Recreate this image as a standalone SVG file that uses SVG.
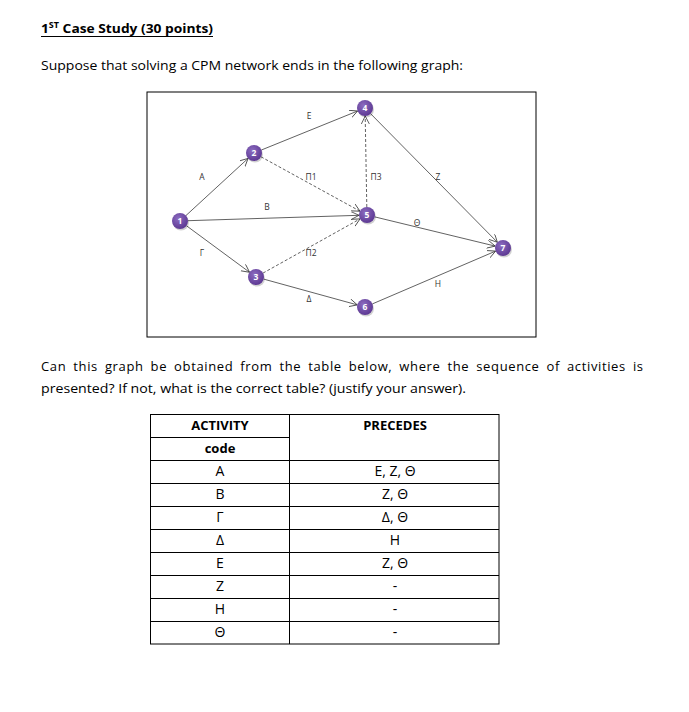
<svg xmlns="http://www.w3.org/2000/svg" width="689" height="712" viewBox="0 0 689 712">
<style>
  .t{font-family:"Open Sans","Liberation Sans",sans-serif;font-size:13px;fill:#000}
  .tb{font-size:14px}
  .b{font-weight:bold}
  .c{text-anchor:middle}
  .lbl{font-family:"Open Sans","Liberation Sans",sans-serif;font-size:8.5px;fill:#333;text-anchor:middle}
  .num{font-family:"Open Sans","Liberation Sans",sans-serif;font-size:8.5px;fill:#fff;text-anchor:middle;font-weight:bold}
  .e{stroke:#3a3a3a;stroke-width:0.8;fill:none;marker-end:url(#arr)}
  .d{stroke-dasharray:3,2}
  .nd{fill:url(#ng);stroke:none}
  .sh{fill:#000;opacity:0.18}
  .grid{stroke:#000;stroke-width:1;fill:none}
</style>
<defs>
  <marker id="arr" markerUnits="userSpaceOnUse" markerWidth="10" markerHeight="10" refX="8" refY="4" orient="auto">
    <path d="M0,0 L8,4 L0,8" fill="none" stroke="#3a3a3a" stroke-width="0.8"/>
  </marker>
  <radialGradient id="ng" cx="0.4" cy="0.35" r="0.7">
    <stop offset="0" stop-color="#8c6cc0"/>
    <stop offset="1" stop-color="#5a3590"/>
  </radialGradient>
</defs>

<!-- Title -->
<g id="title">
  <text class="t b" x="41" y="33" font-size="14" textLength="172" lengthAdjust="spacingAndGlyphs">1<tspan font-size="8.5" dy="-5">ST</tspan><tspan dy="5"> Case Study (30 points)</tspan></text>
  <line x1="41" y1="36.5" x2="213" y2="36.5" stroke="#000" stroke-width="1"/>
</g>
<text class="t" x="41" y="70" textLength="422" lengthAdjust="spacingAndGlyphs">Suppose that solving a CPM network ends in the following graph:</text>

<!-- Graph frame -->
<rect x="147" y="92" width="389" height="245" fill="#fff" stroke="#000" stroke-width="1"/>

<g id="connectors">
  <line class="e" x1="185.9" y1="215.6" x2="248.1" y2="158.4"/>
  <line class="e" x1="261.4" y1="150.0" x2="357.6" y2="111.0"/>
  <line class="e d" x1="261.0" y1="156.8" x2="360.0" y2="211.2"/>
  <line class="e" x1="188" y1="220.7" x2="359" y2="215.3"/>
  <line class="e" x1="186.4" y1="225.7" x2="249.6" y2="272.3"/>
  <line class="e d" x1="263" y1="273.1" x2="360" y2="218.9"/>
  <line class="e d" x1="366.8" y1="207" x2="365.2" y2="116"/>
  <line class="e" x1="370.6" y1="113.7" x2="497.4" y2="242.3"/>
  <line class="e" x1="374.8" y1="216.9" x2="495.2" y2="246.1"/>
  <line class="e" x1="263.7" y1="279.1" x2="357.3" y2="304.9"/>
  <line class="e" x1="372.4" y1="303.9" x2="495.6" y2="251.1"/>
  <text class="lbl" x="309" y="119">E</text>
  <text class="lbl" x="202" y="180">A</text>
  <text class="lbl" x="311" y="180">Π1</text>
  <text class="lbl" x="376" y="180">Π3</text>
  <text class="lbl" x="267" y="210">B</text>
  <text class="lbl" x="438" y="180">Z</text>
  <text class="lbl" x="417" y="226">Θ</text>
  <text class="lbl" x="438" y="287">H</text>
  <text class="lbl" x="202" y="256">Γ</text>
  <text class="lbl" x="311" y="256">Π2</text>
  <text class="lbl" x="309" y="302">Δ</text>
</g>

<g id="n1"><circle class="sh" cx="181" cy="222.5" r="8"/><circle class="nd" cx="180" cy="221" r="8"/><text class="num" x="180" y="224">1</text></g>
<g id="n2"><circle class="sh" cx="255" cy="154.5" r="8"/><circle class="nd" cx="254" cy="153" r="8"/><text class="num" x="254" y="156">2</text></g>
<g id="n3"><circle class="sh" cx="257" cy="278.5" r="8"/><circle class="nd" cx="256" cy="277" r="8"/><text class="num" x="256" y="280">3</text></g>
<g id="n4"><circle class="sh" cx="366" cy="109.5" r="8"/><circle class="nd" cx="365" cy="108" r="8"/><text class="num" x="365" y="111">4</text></g>
<g id="n5"><circle class="sh" cx="368" cy="216.5" r="8"/><circle class="nd" cx="367" cy="215" r="8"/><text class="num" x="367" y="218">5</text></g>
<g id="n6"><circle class="sh" cx="366" cy="308.5" r="8"/><circle class="nd" cx="365" cy="307" r="8"/><text class="num" x="365" y="310">6</text></g>
<g id="n7"><circle class="sh" cx="504" cy="249.5" r="8"/><circle class="nd" cx="503" cy="248" r="8"/><text class="num" x="503" y="251">7</text></g>

<!-- Question -->
<text class="t" x="41" y="371" word-spacing="3" textLength="602" lengthAdjust="spacing">Can this graph be obtained from the table below, where the sequence of activities is</text>
<text class="t" x="41" y="393" textLength="425" lengthAdjust="spacingAndGlyphs">presented? If not, what is the correct table? (justify your answer).</text>

<!-- Table -->
<g id="table">
  <rect class="grid" x="150.5" y="414.5" width="348.5" height="229.5"/>
  <line class="grid" x1="289.5" y1="414.5" x2="289.5" y2="644"/>
  <line class="grid" x1="150.5" y1="437.5" x2="289.5" y2="437.5"/>
  <line class="grid" x1="150.5" y1="460.5" x2="499" y2="460.5"/>
  <line class="grid" x1="150.5" y1="483.5" x2="499" y2="483.5"/>
  <line class="grid" x1="150.5" y1="506.5" x2="499" y2="506.5"/>
  <line class="grid" x1="150.5" y1="529.5" x2="499" y2="529.5"/>
  <line class="grid" x1="150.5" y1="552.5" x2="499" y2="552.5"/>
  <line class="grid" x1="150.5" y1="575.5" x2="499" y2="575.5"/>
  <line class="grid" x1="150.5" y1="598.5" x2="499" y2="598.5"/>
  <line class="grid" x1="150.5" y1="621.5" x2="499" y2="621.5"/>
  <text class="t b c" x="220" y="430">ACTIVITY</text>
  <text class="t b c" x="395" y="430">PRECEDES</text>
  <text class="t b c" x="220" y="453">code</text>
  <text class="t tb c" x="220" y="476">A</text><text class="t tb c" x="395" y="476">E, Z, Θ</text>
  <text class="t tb c" x="220" y="499">B</text><text class="t tb c" x="395" y="499">Z, Θ</text>
  <text class="t tb c" x="220" y="522">Γ</text><text class="t tb c" x="395" y="522">Δ, Θ</text>
  <text class="t tb c" x="220" y="545">Δ</text><text class="t tb c" x="395" y="545">H</text>
  <text class="t tb c" x="220" y="568">E</text><text class="t tb c" x="395" y="568">Z, Θ</text>
  <text class="t tb c" x="220" y="591">Z</text><text class="t tb c" x="395" y="591">-</text>
  <text class="t tb c" x="220" y="614">H</text><text class="t tb c" x="395" y="614">-</text>
  <text class="t tb c" x="220" y="637">Θ</text><text class="t tb c" x="395" y="637">-</text>
</g>
</svg>
